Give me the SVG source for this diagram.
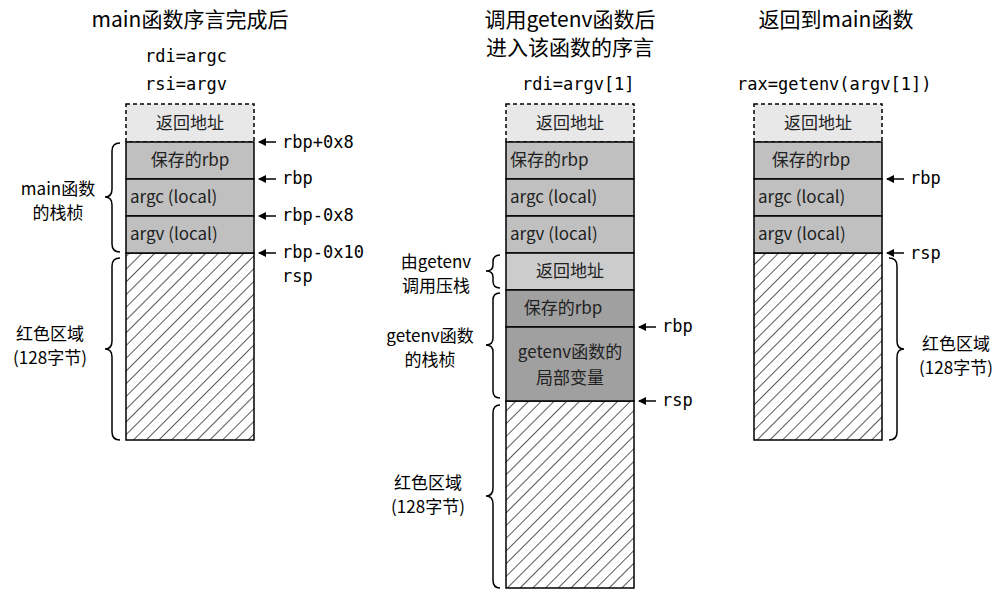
<svg xmlns="http://www.w3.org/2000/svg" width="1008" height="594" viewBox="0 0 1008 594">
<style>
.t{font-family:"Noto Sans CJK SC",sans-serif;font-size:21px;fill:#000;text-anchor:middle}
.m{font-family:"DejaVu Sans Mono","Liberation Mono",monospace;font-size:17px;fill:#000}
.c{font-family:"Noto Sans CJK SC","Noto Sans",sans-serif;font-size:17px;fill:#222}
.lb{font-family:"Noto Sans CJK SC",sans-serif;font-size:17px;fill:#000;text-anchor:middle}
.ra{fill:#e8e8e8;stroke:#000;stroke-width:1.5;stroke-dasharray:4,3}
.g{fill:#c0c0c0;stroke:#000;stroke-width:1.5}
.g2{fill:#cccccc;stroke:#000;stroke-width:1.5}
.d{fill:#a0a0a0;stroke:#000;stroke-width:1.5}
.h{fill:url(#hatch);stroke:#000;stroke-width:1.5}
.br{fill:none;stroke:#000;stroke-width:1.5}
.ar{stroke:#000;stroke-width:1.5;marker-end:url(#ah)}
</style>
<defs>
<pattern id="hatch" width="9" height="9" patternUnits="userSpaceOnUse" patternTransform="rotate(45)">
<rect width="9" height="9" fill="#fff"/>
<line x1="0" y1="0" x2="0" y2="9" stroke="#000" stroke-width="1.3"/>
</pattern>
<marker id="ah" markerWidth="8" markerHeight="8" refX="7" refY="4" orient="auto" markerUnits="userSpaceOnUse">
<path d="M0,0 L8,4 L0,8 Z" fill="#000"/>
</marker>
</defs>
<g id="titles">
<text class="t" x="190" y="27">main函数序言完成后</text>
<text class="m" x="145" y="62">rdi=argc</text>
<text class="m" x="145" y="90">rsi=argv</text>
<text class="t" x="570" y="27">调用getenv函数后</text>
<text class="t" x="570" y="55">进入该函数的序言</text>
<text class="m" x="522" y="90">rdi=argv[1]</text>
<text class="t" x="836" y="27">返回到main函数</text>
<text class="m" x="737" y="90">rax=getenv(argv[1])</text>
</g>
<g id="col1">
<rect class="h" x="126" y="253" width="128" height="187"/>
<rect class="ra" x="126" y="104" width="128" height="38"/>
<rect class="g" x="126" y="142" width="128" height="37"/>
<rect class="g" x="126" y="179" width="128" height="37"/>
<rect class="g" x="126" y="216" width="128" height="37"/>
<text class="c" x="190" y="129" text-anchor="middle">返回地址</text>
<text class="c" x="190" y="166" text-anchor="middle">保存的rbp</text>
<text class="c" x="130" y="203">argc (local)</text>
<text class="c" x="130" y="240">argv (local)</text>
</g>
<g id="col2">
<rect class="h" x="506" y="401" width="128" height="187"/>
<rect class="ra" x="506" y="104" width="128" height="38"/>
<rect class="g" x="506" y="142" width="128" height="37"/>
<rect class="g" x="506" y="179" width="128" height="37"/>
<rect class="g" x="506" y="216" width="128" height="37"/>
<rect class="g2" x="506" y="253" width="128" height="37"/>
<rect class="d" x="506" y="290" width="128" height="37"/>
<rect class="d" x="506" y="327" width="128" height="74"/>
<text class="c" x="570" y="129" text-anchor="middle">返回地址</text>
<text class="c" x="510" y="166">保存的rbp</text>
<text class="c" x="510" y="203">argc (local)</text>
<text class="c" x="510" y="240">argv (local)</text>
<text class="c" x="570" y="277" text-anchor="middle">返回地址</text>
<text class="c" x="563" y="314" text-anchor="middle">保存的rbp</text>
<text class="c" x="570" y="358" text-anchor="middle">getenv函数的</text>
<text class="c" x="570" y="384" text-anchor="middle">局部变量</text>
</g>
<g id="col3">
<rect class="h" x="754" y="253" width="128" height="187"/>
<rect class="ra" x="754" y="104" width="128" height="38"/>
<rect class="g" x="754" y="142" width="128" height="37"/>
<rect class="g" x="754" y="179" width="128" height="37"/>
<rect class="g" x="754" y="216" width="128" height="37"/>
<text class="c" x="818" y="129" text-anchor="middle">返回地址</text>
<text class="c" x="811" y="166" text-anchor="middle">保存的rbp</text>
<text class="c" x="758" y="203">argc (local)</text>
<text class="c" x="758" y="240">argv (local)</text>
</g>
<g id="labels">
<text class="m" x="282" y="148">rbp+0x8</text>
<text class="m" x="282" y="184">rbp</text>
<text class="m" x="282" y="221">rbp-0x8</text>
<text class="m" x="282" y="258">rbp-0x10</text>
<text class="m" x="282" y="282">rsp</text>
<text class="m" x="662" y="332">rbp</text>
<text class="m" x="662" y="406">rsp</text>
<text class="m" x="910" y="184">rbp</text>
<text class="m" x="910" y="259">rsp</text>
<text class="lb" x="58" y="195">main函数</text>
<text class="lb" x="58" y="219">的栈桢</text>
<text class="lb" x="50" y="340">红色区域</text>
<text class="lb" x="50" y="364">(128字节)</text>
<text class="lb" x="436" y="268">由getenv</text>
<text class="lb" x="436" y="292">调用压栈</text>
<text class="lb" x="430" y="342">getenv函数</text>
<text class="lb" x="430" y="366">的栈桢</text>
<text class="lb" x="428" y="489">红色区域</text>
<text class="lb" x="428" y="513">(128字节)</text>
<text class="lb" x="956" y="350">红色区域</text>
<text class="lb" x="956" y="374">(128字节)</text>
</g>
<g id="connectors">
<line class="ar" x1="276" y1="142" x2="259" y2="142"/>
<line class="ar" x1="276" y1="179" x2="259" y2="179"/>
<line class="ar" x1="276" y1="216" x2="259" y2="216"/>
<line class="ar" x1="276" y1="253" x2="259" y2="253"/>
<line class="ar" x1="656" y1="327" x2="639" y2="327"/>
<line class="ar" x1="656" y1="401" x2="639" y2="401"/>
<line class="ar" x1="904" y1="179" x2="887" y2="179"/>
<line class="ar" x1="904" y1="253" x2="887" y2="253"/>
<path class="br" d="M120,143 Q112,143 112,151 L112,189 Q112,197 105,197 Q112,197 112,205 L112,244 Q112,252 120,252"/>
<path class="br" d="M120,258 Q112,258 112,266 L112,341 Q112,349 105,349 Q112,349 112,357 L112,432 Q112,440 120,440"/>
<path class="br" d="M500,255 Q493,255 493,262 L493,265 Q493,271 486,271 Q493,271 493,277 L493,281 Q493,288 500,288"/>
<path class="br" d="M500,293 Q493,293 493,300 L493,338 Q493,345 486,345 Q493,345 493,352 L493,391 Q493,398 500,398"/>
<path class="br" d="M500,405 Q493,405 493,413 L493,488 Q493,496 486,496 Q493,496 493,504 L493,580 Q493,588 500,588"/>
<path class="br" d="M889,258 Q897,258 897,266 L897,341 Q897,349 904,349 Q897,349 897,357 L897,432 Q897,440 889,440"/>
</g>
</svg>
